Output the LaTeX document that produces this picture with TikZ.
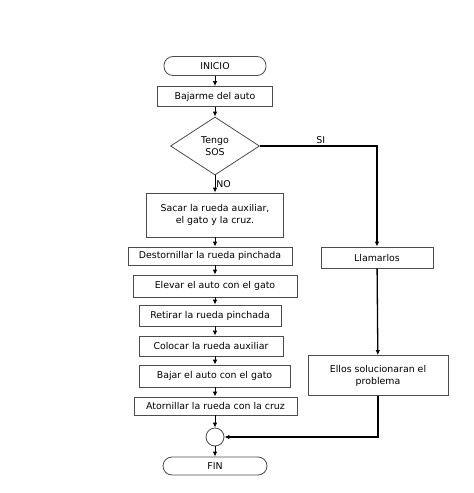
\documentclass[tikz,border=0pt]{standalone}
\usepackage{fontspec}
\setmainfont{DejaVu Sans}
\usetikzlibrary{shapes.geometric,arrows.meta}

\begin{document}
\begin{tikzpicture}[x=1pt,y=-1pt,
  texto/.style={font=\fontsize{9.4}{12}\selectfont},
  caja/.style={texto,draw=black!70,line width=0.8pt,inner sep=0pt,
    align=center,minimum height=20pt},
  terminal/.style={caja,rounded corners=9pt,minimum height=19pt},
  decision/.style={texto,draw=black!70,line width=0.8pt,diamond,aspect=1.5,
    inner sep=0pt,align=center,minimum width=89pt,minimum height=58pt},
  union/.style={draw=black!70,line width=0.8pt,circle,minimum size=18pt,inner sep=0pt},
  flecha/.style={-{Latex[length=5pt,width=4.5pt]},line width=0.9pt}]

  \useasboundingbox (0,0) rectangle (474,493);

  %% nodes
  \node[terminal,minimum width=102pt] (inicio) at (215,66) {INICIO};
  \node[caja,minimum width=115pt] (bajarme) at (215,96.5) {Bajarme del auto};
  \node[decision] (tengo) at (215,146) {Tengo\\SOS};
  \node[caja,minimum width=137pt,minimum height=44pt] (sacar) at (215,215)
    {Sacar la rueda auxiliar,\\el gato y la cruz.};
  \node[caja,minimum width=164pt,minimum height=18pt] (destornillar) at (210,256)
    {Destornillar la rueda pinchada};
  \node[caja,minimum width=164pt,minimum height=22pt] (elevar) at (215,286)
    {Elevar el auto con el gato};
  \node[caja,minimum width=142pt,minimum height=21pt] (retirar) at (210,315.5)
    {Retirar la rueda pinchada};
  \node[caja,minimum width=144pt,minimum height=20pt] (colocar) at (211,346)
    {Colocar la rueda auxiliar};
  \node[caja,minimum width=151pt,minimum height=22pt] (bajar) at (214.5,376)
    {Bajar el auto con el gato};
  \node[caja,minimum width=163pt,minimum height=18pt] (atornillar) at (215.5,406)
    {Atornillar la rueda con la cruz};
  \node[union] (juntar) at (215,437) {};
  \node[terminal,minimum width=104pt,minimum height=18pt] (fin) at (215,466) {FIN};

  \node[caja,minimum width=112pt,minimum height=21pt] (llamar) at (377,257.5) {Llamarlos};
  \node[caja,minimum width=140pt,minimum height=40pt] (ellos) at (378,375.5)
    {Ellos solucionaran el\\problema};

  %% node to node
  \draw[flecha] (inicio) -- (bajarme);
  \draw[flecha] (bajarme) -- (tengo);
  \draw[flecha] (tengo) -- node[texto,anchor=west,inner sep=1pt]{NO} (sacar);
  \draw[flecha] (sacar) -- (sacar |- destornillar.north);
  \draw[flecha] (destornillar.south -| elevar) -- (elevar);
  \draw[flecha] (elevar) -- (elevar |- retirar.north);
  \draw[flecha] (retirar.south -| elevar) -- (elevar |- colocar.north);
  \draw[flecha] (colocar.south -| elevar) -- (elevar |- bajar.north);
  \draw[flecha] (bajar.south -| elevar) -- (elevar |- atornillar.north);
  \draw[flecha] (atornillar.south -| juntar) -- (juntar);
  \draw[flecha] (juntar) -- (fin);

  %% SI branch
  \draw[flecha,line width=1.3pt] (tengo.east) -|
    node[texto,pos=0.26,anchor=south,inner sep=2pt]{SI} (llamar);
  \draw[flecha,line width=1.3pt] (llamar) -- (ellos);
  \draw[flecha,line width=1.3pt] (ellos) |- (juntar);

\end{tikzpicture}
\end{document}
